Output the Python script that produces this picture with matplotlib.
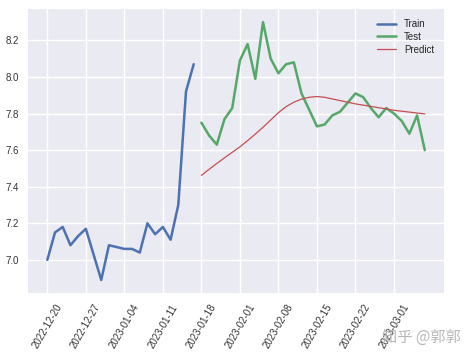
import matplotlib
matplotlib.use('Agg')
import matplotlib.pyplot as plt
import numpy as np

# trading days shown on the x axis (ticks every 5th day)
dates = ['2022-12-20', '2022-12-21', '2022-12-22', '2022-12-23', '2022-12-26',
         '2022-12-27', '2022-12-28', '2022-12-29', '2022-12-30', '2023-01-03',
         '2023-01-04', '2023-01-05', '2023-01-06', '2023-01-09', '2023-01-10',
         '2023-01-11', '2023-01-12', '2023-01-13', '2023-01-16', '2023-01-17',
         '2023-01-18', '2023-01-19', '2023-01-20', '2023-01-30', '2023-01-31',
         '2023-02-01', '2023-02-02', '2023-02-03', '2023-02-06', '2023-02-07',
         '2023-02-08', '2023-02-09', '2023-02-10', '2023-02-13', '2023-02-14',
         '2023-02-15', '2023-02-16', '2023-02-17', '2023-02-20', '2023-02-21',
         '2023-02-22', '2023-02-23', '2023-02-24', '2023-02-27', '2023-02-28',
         '2023-03-01', '2023-03-02', '2023-03-03', '2023-03-06', '2023-03-07']

train = [7.00, 7.15, 7.18, 7.08, 7.13, 7.17, 7.03, 6.89, 7.08, 7.07,
         7.06, 7.06, 7.04, 7.20, 7.14, 7.18, 7.11, 7.30, 7.92, 8.07]

test = [7.75, 7.68, 7.63, 7.77, 7.83, 8.09, 8.18, 7.99, 8.30, 8.10,
        8.02, 8.07, 8.08, 7.91, 7.82, 7.73, 7.74, 7.79, 7.81, 7.86,
        7.91, 7.89, 7.83, 7.78, 7.83, 7.80, 7.76, 7.69, 7.79, 7.60]

predict = [7.462, 7.495, 7.527, 7.558, 7.588, 7.618, 7.652, 7.688, 7.725, 7.765,
           7.805, 7.838, 7.862, 7.879, 7.889, 7.893, 7.889, 7.880, 7.871, 7.862,
           7.853, 7.846, 7.839, 7.832, 7.825, 7.818, 7.813, 7.808, 7.803, 7.798]

plt.style.use('seaborn-v0_8')
plt.rcParams['font.family'] = ['Liberation Sans', 'DejaVu Sans']

x_train = np.arange(len(train))
x_test = np.arange(len(train), len(train) + len(test))

fig = plt.figure(figsize=(4.74, 3.55), dpi=100)
ax = fig.add_subplot(111)
ax.plot(x_train, train, color='#4C72B0', lw=1.8, label='Train')
ax.plot(x_test, test, color='#55A868', lw=1.8, label='Test')
ax.plot(x_test, predict, color='#C44E52', lw=0.9, label='Predict')

step = 5
ticks = np.arange(0, len(dates), step)
ax.set_xticks(ticks)
ax.set_xticklabels([dates[i] for i in ticks], rotation=60)
ax.tick_params(labelsize=7, colors='#333333')
ax.legend(loc='upper right', fontsize=7, frameon=False, labelspacing=0.3,
          borderaxespad=0.6)

fig.subplots_adjust(left=0.06, right=0.936, top=0.974, bottom=0.175)

fig.text(0.972, 0.05, '知乎 @郭郭', ha='right', va='center', fontsize=11,
         color='#b8b8b8', family=['Noto Sans CJK SC', 'DejaVu Sans'])

fig.savefig('out.png', dpi=100)
